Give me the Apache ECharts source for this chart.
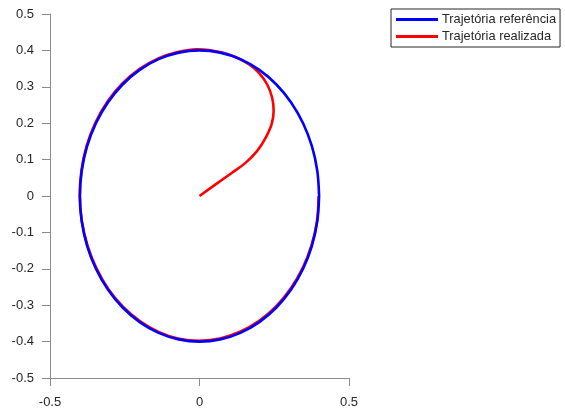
<!DOCTYPE html>
<html>
<head>
<meta charset="utf-8">
<script src="https://cdn.jsdelivr.net/npm/echarts@6/dist/echarts.min.js"></script>
<style>
  html, body { margin: 0; padding: 0; background: #fff; }
  #chart { width: 565px; height: 413px; }
</style>
</head>
<body>
<div id="chart"></div>
<script>
// trajetória de referência (círculo r = 0.4), pontos a cada 10 graus
var refX = [0.4, 0.3939, 0.3759, 0.3464, 0.3064, 0.2571, 0.2, 0.1368, 0.0695, 0,
  -0.0695, -0.1368, -0.2, -0.2571, -0.3064, -0.3464, -0.3759, -0.3939, -0.4,
  -0.3939, -0.3759, -0.3464, -0.3064, -0.2571, -0.2, -0.1368, -0.0695, 0,
  0.0695, 0.1368, 0.2, 0.2571, 0.3064, 0.3464, 0.3759, 0.3939, 0.4];
var refY = [0, 0.0695, 0.1368, 0.2, 0.2571, 0.3064, 0.3464, 0.3759, 0.3939, 0.4,
  0.3939, 0.3759, 0.3464, 0.3064, 0.2571, 0.2, 0.1368, 0.0695, 0,
  -0.0695, -0.1368, -0.2, -0.2571, -0.3064, -0.3464, -0.3759, -0.3939, -0.4,
  -0.3939, -0.3759, -0.3464, -0.3064, -0.2571, -0.2, -0.1368, -0.0695, 0];

// trajetória realizada
var realX = [0, 0.054, 0.109, 0.154, 0.193, 0.221, 0.241, 0.248, 0.243, 0.226, 0.198, 0.165, 0.120, 0.076, 0.031, -0.008,
  -0.0698, -0.1375, -0.2012, -0.2588, -0.3082, -0.3482, -0.3775, -0.3950, -0.4005,
  -0.3935, -0.3745, -0.3445, -0.3045, -0.2552, -0.1984, -0.1356, -0.0688, 0,
  0.0688, 0.1356, 0.1984, 0.2552, 0.3045, 0.3445, 0.3745, 0.3930, 0.3985];
var realY = [0, 0.032, 0.064, 0.091, 0.124, 0.160, 0.197, 0.234, 0.270, 0.307, 0.339, 0.362, 0.382, 0.394, 0.401, 0.403,
  0.3960, 0.3780, 0.3486, 0.3083, 0.2587, 0.2012, 0.1375, 0.0698, 0,
  -0.0692, -0.1362, -0.1990, -0.2560, -0.3045, -0.3440, -0.3738, -0.3920, -0.3975,
  -0.3915, -0.3730, -0.3436, -0.3040, -0.2550, -0.1990, -0.1360, -0.0690, 0];

var xTicks = { min: -0.5, max: 0.5, step: 0.5 };
var yTicks = { min: -0.5, max: 0.5, step: 0.1 };

function pairs(xs, ys) {
  return xs.map(function(x, i) { return [x, ys[i]]; });
}

var chart = echarts.init(document.getElementById('chart'));
var axisLine = { show: true, onZero: false, lineStyle: { color: '#8a8a8a', width: 1 } };
var axisTick = { show: true, inside: false, length: 8, lineStyle: { color: '#8a8a8a' } };
var labelFont = { color: '#262626', fontSize: 13, fontFamily: 'Liberation Sans, Arial, sans-serif' };

chart.setOption({
  animation: false,
  grid: { left: 50, right: 216, top: 14, bottom: 35, containLabel: false },
  legend: {
    orient: 'vertical',
    left: 391,
    top: 9,
    padding: [4, 4, 4, 5],
    itemGap: 4,
    itemWidth: 42,
    itemHeight: 3,
    icon: 'rect',
    borderColor: '#262626',
    borderWidth: 1,
    textStyle: { color: '#262626', fontSize: 12.8, fontFamily: 'Liberation Sans, Arial, sans-serif', padding: [0, 0, 0, -1] },
    data: ['Trajetória referência', 'Trajetória realizada']
  },
  xAxis: {
    type: 'value',
    min: xTicks.min, max: xTicks.max, interval: xTicks.step,
    axisLine: axisLine,
    axisTick: axisTick,
    splitLine: { show: false },
    axisLabel: Object.assign({}, labelFont, { margin: 18 })
  },
  yAxis: {
    type: 'value',
    min: yTicks.min, max: yTicks.max, interval: yTicks.step,
    axisLine: axisLine,
    axisTick: axisTick,
    splitLine: { show: false },
    axisLabel: Object.assign({}, labelFont, {
      margin: 16,
      formatter: function(v) { return Math.abs(v) < 1e-9 ? '0' : String(Math.round(v * 10) / 10); }
    })
  },
  series: [
    {
      name: 'Trajetória referência',
      type: 'line',
      data: pairs(refX, refY),
      showSymbol: false,
      smooth: 0.35,
      z: 3,
      color: '#0000ff',
      lineStyle: { color: '#0000ff', width: 2.6 }
    },
    {
      name: 'Trajetória realizada',
      type: 'line',
      data: pairs(realX, realY),
      showSymbol: false,
      smooth: 0.3,
      z: 2,
      color: '#ff0000',
      lineStyle: { color: '#ff0000', width: 2.6 }
    }
  ]
});
</script>
</body>
</html>
